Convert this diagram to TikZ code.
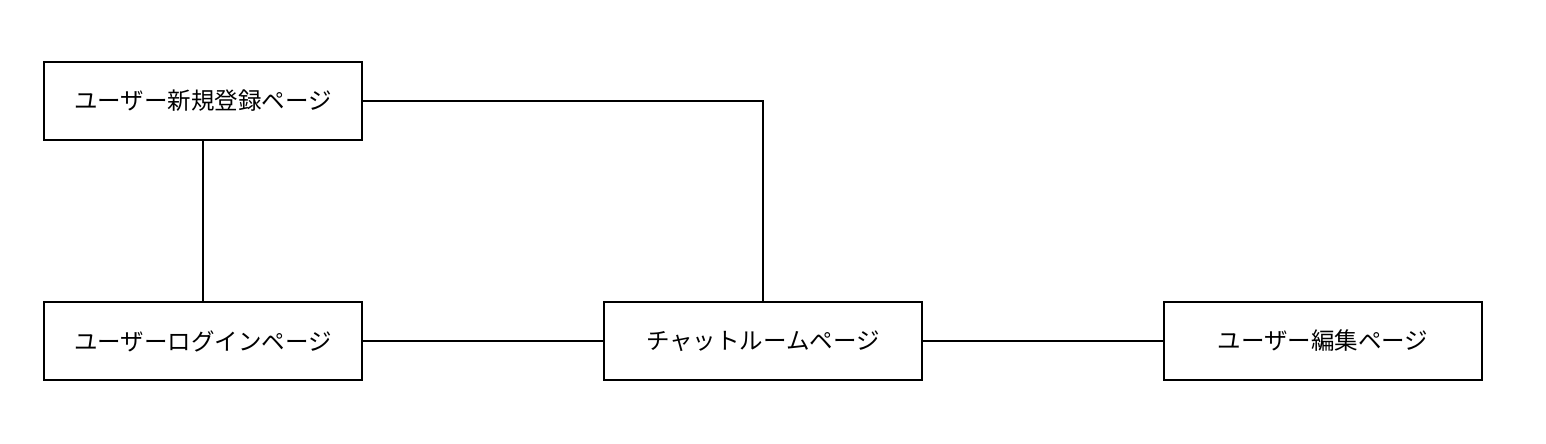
\documentclass[tikz,border=0pt]{standalone}
\usepackage{fontspec}
\newfontfamily\jpfont{Noto Sans CJK JP}
\begin{document}
\begin{tikzpicture}
[
    x=1pt, y=-1pt,
    page/.style={draw, line width=2pt, minimum width=318pt, minimum height=78pt, inner sep=0pt, font=\jpfont\fontsize{23.5}{28}\selectfont},
    link/.style={line width=2pt},
]
\useasboundingbox (0,0) rectangle (1546,444);
\node[page] (signup) at (203,101) {ユーザー新規登録ページ};
\node[page] (login) at (203,341) {ユーザーログインページ};
\node[page] (chat) at (763,341) {チャットルームページ};
\node[page] (edit) at (1323,341) {ユーザー編集ページ};
\draw[link] (signup) -- (login);
\draw[link] (signup.east) -| (chat.north);
\draw[link] (login) -- (chat);
\draw[link] (chat) -- (edit);
\end{tikzpicture}
\end{document}
